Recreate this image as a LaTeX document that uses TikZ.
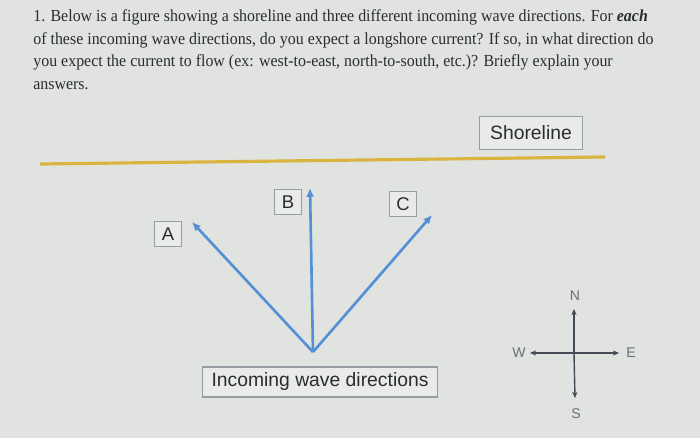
\documentclass[tikz,border=0pt]{standalone}
\usepackage{fontspec}
\setmainfont{Liberation Serif}
\setsansfont{Liberation Sans}
\newfontfamily\qfont[FakeStretch=0.945]{Liberation Serif}
\usepackage{tikz}
\usetikzlibrary{arrows.meta,positioning}
\definecolor{paper}{RGB}{224,227,223}
\definecolor{boxfill}{RGB}{232,235,232}
\definecolor{boxline}{RGB}{150,156,162}
\definecolor{sandline}{RGB}{218,180,62}
\definecolor{waveblue}{RGB}{84,144,214}
\definecolor{inkgrey}{RGB}{42,44,50}
\definecolor{compassgrey}{RGB}{70,74,84}

\begin{document}
\begin{tikzpicture}[
    x=0.02cm, y=-0.02cm,
    qline/.style={anchor=base west, inner sep=0pt, text=inkgrey, font=\qfont\fontsize{9.6}{12}\selectfont},
    labelbox/.style={rectangle, draw=boxline, line width=0.6pt, fill=boxfill, inner sep=0pt, text=inkgrey},
    letter/.style={labelbox, minimum width=0.54cm, minimum height=0.5cm, font=\sffamily\fontsize{10.5}{12}\selectfont},
    shore/.style={sandline, line width=1.8pt},
    wave/.style={-{Latex[length=5pt,width=4.5pt]}, waveblue, line width=1.5pt},
    compass/.style={-{Stealth[length=3.5pt,width=3pt]}, compassgrey, line width=0.8pt},
    point/.style={inner sep=0pt, text=compassgrey!80, font=\sffamily\fontsize{8}{9}\selectfont}
]

% Background
\fill[paper] (0,0) rectangle (700,438);
\useasboundingbox (0,0) rectangle (700,438);

% Question
\node[qline] (q1) at (33,22) {1. Below is a figure showing a shoreline and three different incoming wave directions. For \textbf{\textit{each}}};
\node[qline] (q2) at (33,45) {of these incoming wave directions, do you expect a longshore current? If so, in what direction do};
\node[qline] (q3) at (33,67) {you expect the current to flow (ex: west-to-east, north-to-south, etc.)? Briefly explain your};
\node[qline] (q4) at (33,90) {answers.};

% Shoreline
\coordinate (shoreW) at (40,164);
\coordinate (shoreE) at (605,157);
\draw[shore] (shoreW) -- (shoreE);
\node[labelbox, minimum width=2.06cm, minimum height=0.66cm, font=\sffamily\fontsize{11}{13}\selectfont] (shoreTag) at (531,133) {Shoreline};

% Incoming wave directions
\coordinate (vertex) at (313,352);
\coordinate (tipA) at (192,222);
\coordinate (tipB) at (310,188);
\coordinate (tipC) at (432,215);
\draw[wave] (vertex) -- (tipA);
\draw[wave] (vertex) -- (tipB);
\draw[wave] (vertex) -- (tipC);
\node[letter] (boxA) at (168,234) {A};
\node[letter] (boxB) at (288,202) {B};
\node[letter] (boxC) at (403,204) {C};
\node[labelbox, minimum width=4.7cm, minimum height=0.6cm, font=\sffamily\fontsize{11}{13}\selectfont] (waveTag) at (320,382) {Incoming wave directions};

% Compass
\coordinate (ctr) at (574,353);
\coordinate (tipN) at (574,309);
\coordinate (tipS) at (575,398);
\coordinate (tipW) at (530,353);
\coordinate (tipE) at (619,353);
\draw[compass] (ctr) -- (tipN);
\draw[compass] (ctr) -- (tipS);
\draw[compass] (ctr) -- (tipW);
\draw[compass] (ctr) -- (tipE);
\node[point] (lblN) at (575,296) {N};
\node[point] (lblS) at (576,414) {S};
\node[point] (lblW) at (519,353) {W};
\node[point] (lblE) at (631,353) {E};

\end{tikzpicture}
\end{document}
